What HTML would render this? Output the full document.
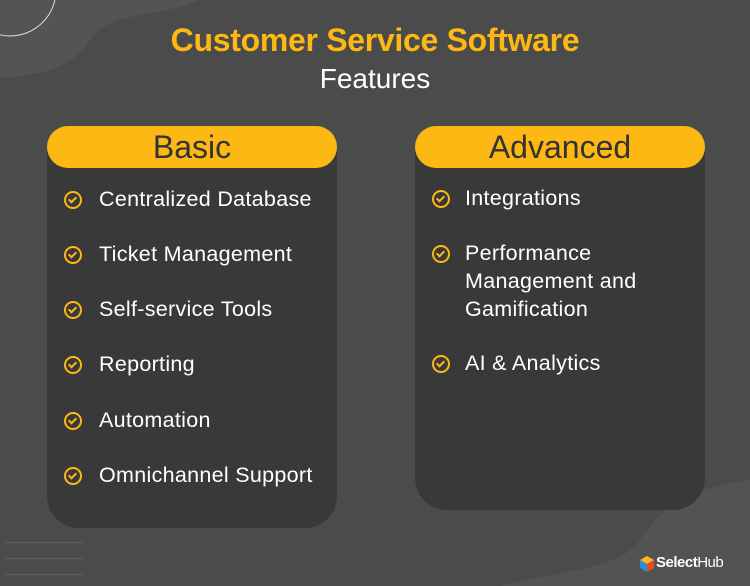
<!DOCTYPE html>
<html><head><style>
body{margin:0;width:750px;height:586px;background:#4b4b4b;position:relative;overflow:hidden;font-family:"Liberation Sans",sans-serif;}
.t1{position:absolute;top:22px;width:750px;text-align:center;color:#fdb813;font-weight:bold;font-size:32px;letter-spacing:-0.3px}
.t2{position:absolute;top:63px;width:750px;text-align:center;color:#fff;font-size:28px}
.card{position:absolute;background:#393939;border-radius:22px 22px 32px 32px}
.pill{position:absolute;left:0;top:0;right:0;height:42px;background:#fdb813;border-radius:21px;text-align:center;color:#333;font-size:32px;line-height:43px}
.it{position:absolute;left:52px;color:#fff;font-size:21.5px;line-height:28px;letter-spacing:0.3px}
.ck{position:absolute;left:17px;width:14px;height:14px;border:2px solid #fdb813;border-radius:50%}
.ck:after{content:"";position:absolute;left:4px;top:2px;width:3px;height:6px;border:solid #fdb813;border-width:0 2px 2px 0;transform:rotate(45deg)}
</style></head><body>
<svg width="750" height="586" style="position:absolute;left:0;top:0">
<path d="M0 0 H200 C150 20 110 10 90 40 C70 70 40 75 0 78 Z" fill="#545454"/>
<circle cx="10" cy="-10" r="46" fill="none" stroke="#ddd" stroke-width="1"/>
<path d="M500 586 C560 570 620 570 640 540 C660 510 680 490 750 480 V586 Z" fill="#535353"/>
<g fill="#5d5d5d">
<rect x="4" y="542" width="80" height="1"/><rect x="4" y="558" width="80" height="1"/><rect x="4" y="574" width="80" height="1"/>
</g>
</svg>
<div class="t1">Customer Service Software</div>
<div class="t2">Features</div>
<div class="card" style="left:47px;top:126px;width:290px;height:402px">
<div class="pill">Basic</div>
<div class="ck" style="top:65px"></div><div class="it" style="top:59px">Centralized Database</div>
<div class="ck" style="top:120px"></div><div class="it" style="top:114px">Ticket Management</div>
<div class="ck" style="top:175px"></div><div class="it" style="top:169px">Self-service Tools</div>
<div class="ck" style="top:230px"></div><div class="it" style="top:224px">Reporting</div>
<div class="ck" style="top:286px"></div><div class="it" style="top:280px">Automation</div>
<div class="ck" style="top:341px"></div><div class="it" style="top:335px">Omnichannel Support</div>
</div>
<div class="card" style="left:415px;top:126px;width:290px;height:384px">
<div class="pill">Advanced</div>
<div class="ck" style="top:64px"></div><div class="it" style="top:58px;left:50px">Integrations</div>
<div class="ck" style="top:119px"></div><div class="it" style="top:113px;left:50px">Performance<br>Management and<br>Gamification</div>
<div class="ck" style="top:229px"></div><div class="it" style="top:223px;left:50px">AI &amp; Analytics</div>
</div>
<svg width="14" height="16" style="position:absolute;left:640px;top:556px">
<polygon points="7,0 14,4 7,8 0,4" fill="#fdb813"/><polygon points="0,4 7,8 7,16 0,12" fill="#2a8fd8"/><polygon points="14,4 7,8 7,16 14,12" fill="#e8462b"/></svg>
<div style="position:absolute;left:656px;top:554px;color:#fff;font-size:15px;font-weight:bold;letter-spacing:-0.5px">Select<span style="font-weight:normal">Hub</span></div>
</body></html>
